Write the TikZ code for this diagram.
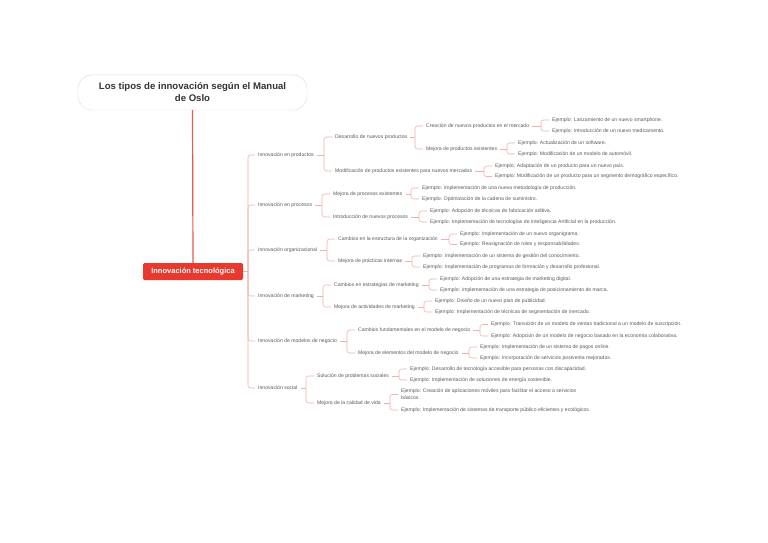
\documentclass[tikz,border=0pt]{standalone}
\usepackage{fontspec}
\setmainfont{Liberation Sans}
\usetikzlibrary{shadows}
\definecolor{lnk}{HTML}{F0B2AC}
\definecolor{rootred}{HTML}{E8392E}
\definecolor{txtgray}{HTML}{5A5A5A}
\definecolor{titlegray}{HTML}{333333}
\newcommand\brk[3]{%
  \coordinate (bx) at (#2,0);
  \draw[lnkline] (#1.east) -- (#1.east -| bx);
  \foreach \c in {#3} {\draw[lnkline, rounded corners=2.5pt] (#1.east -| bx) |- (\c.west);}
}
\tikzset{
  lnkline/.style={draw=lnk, line width=0.6pt},
  tx/.style={anchor=west, inner xsep=3pt, inner ysep=1pt, text=txtgray, font=\fontsize{5.1}{7}\selectfont},
}
\begin{document}
\begin{tikzpicture}[x=1pt,y=-1pt]
\useasboundingbox[fill=white] (0,0) rectangle (768,543);

% title
\node[draw=black!13, fill=white, rounded corners=14pt, minimum width=229pt, minimum height=35pt,
  align=center, text=titlegray, font=\fontsize{9.6}{12}\selectfont\bfseries, inner sep=0pt,
  drop shadow={opacity=0.08, shadow xshift=0pt, shadow yshift=1pt}] (title) at (192.5,92.5)
  {Los tipos de innovación según el Manual\\de Oslo};

% root
\node[fill=rootred, rounded corners=1.5pt, minimum width=100pt, minimum height=17pt, inner sep=0pt,
  text=white, font=\fontsize{7.5}{8}\selectfont\bfseries] (root) at (193,271.5) {Innovación tecnológica};
\draw[rootred!85, line width=1.2pt] (title.south) -- (root.north);

% level 1
\node[tx] (A) at (255,155) {Innovación en productos};
\node[tx] (B) at (255,205) {Innovación en procesos};
\node[tx] (C) at (255,250) {Innovación organizacional};
\node[tx] (D) at (255,296) {Innovación de marketing};
\node[tx] (E) at (255,341) {Innovación de modelos de negocio};
\node[tx] (F) at (255,388) {Innovación social};

% productos
\node[tx] (a1) at (332,137) {Desarrollo de nuevos productos};
\node[tx] (a2) at (332,171) {Modificación de productos existentes para nuevos mercados};
\node[tx] (a11) at (423,126) {Creación de nuevos productos en el mercado};
\node[tx] (a12) at (423,149) {Mejora de productos existentes};
\node[tx] (a111) at (549,120) {Ejemplo: Lanzamiento de un nuevo smartphone.};
\node[tx] (a112) at (549,131) {Ejemplo: Introducción de un nuevo medicamento.};
\node[tx] (a121) at (515,143) {Ejemplo: Actualización de un software.};
\node[tx] (a122) at (515,154) {Ejemplo: Modificación de un modelo de automóvil.};
\node[tx] (a21) at (492,166) {Ejemplo: Adaptación de un producto para un nuevo país.};
\node[tx] (a22) at (492,176.5) {Ejemplo: Modificación de un producto para un segmento demográfico específico.};

% procesos
\node[tx] (b1) at (330,194) {Mejora de procesos existentes};
\node[tx] (b2) at (330,217) {Introducción de nuevos procesos};
\node[tx] (b11) at (419,188) {Ejemplo: Implementación de una nueva metodología de producción.};
\node[tx] (b12) at (419,199) {Ejemplo: Optimización de la cadena de suministro.};
\node[tx] (b21) at (427,211) {Ejemplo: Adopción de técnicas de fabricación aditiva.};
\node[tx] (b22) at (427,222) {Ejemplo: Implementación de tecnologías de Inteligencia Artificial en la producción.};

% organizacional
\node[tx] (c1) at (335,239) {Cambios en la estructura de la organización};
\node[tx] (c2) at (335,261) {Mejora de prácticas internas};
\node[tx] (c11) at (457,234) {Ejemplo: Implementación de un nuevo organigrama.};
\node[tx] (c12) at (457,244.5) {Ejemplo: Reasignación de roles y responsabilidades.};
\node[tx] (c21) at (420,256) {Ejemplo: Implementación de un sistema de gestión del conocimiento.};
\node[tx] (c22) at (420,267) {Ejemplo: Implementación de programas de formación y desarrollo profesional.};

% marketing
\node[tx] (d1) at (331,285) {Cambios en estrategias de marketing};
\node[tx] (d2) at (331,307) {Mejora de actividades de marketing};
\node[tx] (d11) at (437,279) {Ejemplo: Adopción de una estrategia de marketing digital.};
\node[tx] (d12) at (437,290) {Ejemplo: Implementación de una estrategia de posicionamiento de marca.};
\node[tx] (d21) at (432,301) {Ejemplo: Diseño de un nuevo plan de publicidad.};
\node[tx] (d22) at (432,312) {Ejemplo: Implementación de técnicas de segmentación de mercado.};

% modelos de negocio
\node[tx] (e1) at (355,330) {Cambios fundamentales en el modelo de negocio};
\node[tx] (e2) at (355,353) {Mejora de elementos del modelo de negocio};
\node[tx] (e11) at (488,324.5) {Ejemplo: Transición de un modelo de ventas tradicional a un modelo de suscripción.};
\node[tx] (e12) at (488,336) {Ejemplo: Adopción de un modelo de negocio basado en la economía colaborativa.};
\node[tx] (e21) at (477,347) {Ejemplo: Implementación de un sistema de pagos online.};
\node[tx] (e22) at (477,358) {Ejemplo: Incorporación de servicios postventa mejorados.};

% social
\node[tx] (f1) at (314,376) {Solución de problemas sociales};
\node[tx] (f2) at (314,403) {Mejora de la calidad de vida};
\node[tx] (f11) at (407,369) {Ejemplo: Desarrollo de tecnología accesible para personas con discapacidad.};
\node[tx] (f12) at (407,380) {Ejemplo: Implementación de soluciones de energía sostenible.};
\node[tx, align=left] (f21) at (398,394.5) {Ejemplo: Creación de aplicaciones móviles para facilitar el acceso a servicios\\básicos.};
\node[tx] (f22) at (398,410) {Ejemplo: Implementación de sistemas de transporte público eficientes y ecológicos.};

% connectors
\brk{root}{248}{A,B,C,D,E,F}
\brk{A}{324}{a1,a2}
\brk{a1}{415}{a11,a12}
\brk{a11}{541}{a111,a112}
\brk{a12}{507}{a121,a122}
\brk{a2}{484}{a21,a22}
\brk{B}{322}{b1,b2}
\brk{b1}{411}{b11,b12}
\brk{b2}{419}{b21,b22}
\brk{C}{327}{c1,c2}
\brk{c1}{449}{c11,c12}
\brk{c2}{412}{c21,c22}
\brk{D}{323}{d1,d2}
\brk{d1}{429}{d11,d12}
\brk{d2}{424}{d21,d22}
\brk{E}{347}{e1,e2}
\brk{e1}{480}{e11,e12}
\brk{e2}{469}{e21,e22}
\brk{F}{306}{f1,f2}
\brk{f1}{399}{f11,f12}
\brk{f2}{390}{f21,f22}
\end{tikzpicture}
\end{document}
